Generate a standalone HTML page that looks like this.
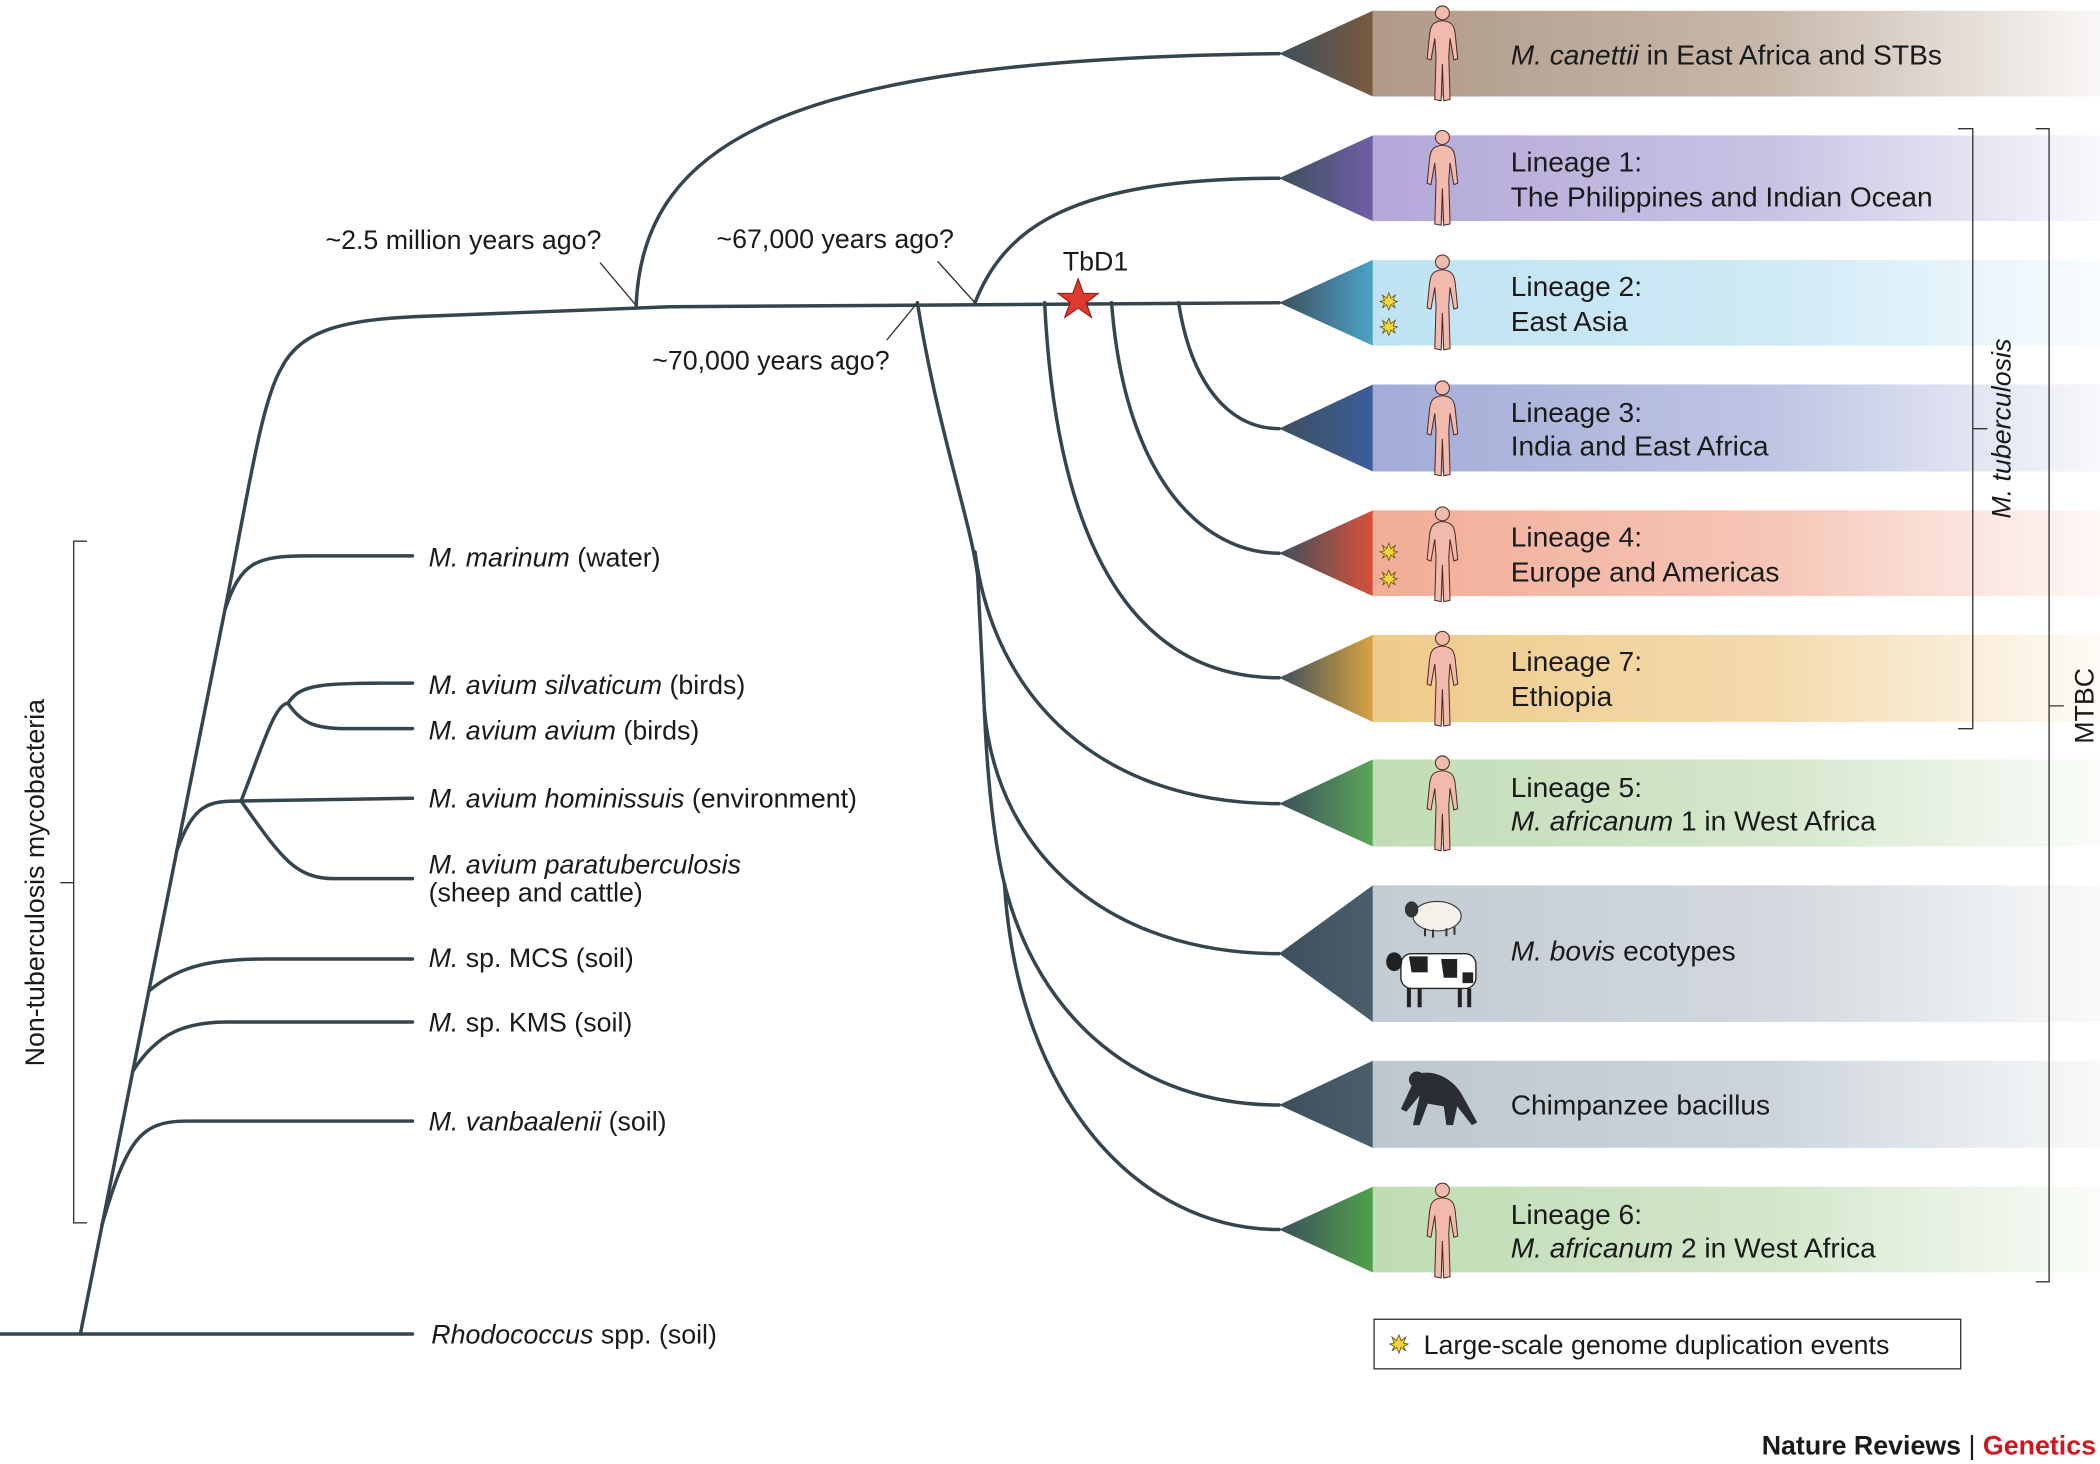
<!DOCTYPE html>
<html><head><meta charset="utf-8"><style>
html,body{margin:0;padding:0;background:#fff;}
svg{display:block;}
text{font-family:"Liberation Sans",sans-serif;fill:#1a1a1a;}
</style></head><body>
<svg width="2100" height="1464" viewBox="0 0 1568 1093" xmlns="http://www.w3.org/2000/svg">
<defs>
<symbol id="hum" viewBox="0 0 30 80">
<circle cx="15" cy="8" r="5.5" fill="#f2b9ad" stroke="#4a2a24" stroke-width="0.8"/>
<path d="M15,14 C8,15 6,17 5,24 L3,44 L6,45 L9,28 L10,42 L9,76 L14,77 L15,48 L16,77 L21,76 L20,42 L21,28 L24,45 L27,44 L25,24 C24,17 22,15 15,14 Z" fill="#f2b9ad" stroke="#4a2a24" stroke-width="0.8"/>
</symbol>
<symbol id="yst" viewBox="-10 -10 20 20">
<polygon points="0,-8 2,-3 6,-6 4,-1 8,0 4,2 6,6 2,3 0,8 -2,3 -6,6 -4,2 -8,0 -4,-1 -6,-6 -2,-3" fill="#f7d53a" stroke="#6b5a10" stroke-width="0.8"/>
</symbol>
<linearGradient id="g0" x1="0" x2="1"><stop offset="0" stop-color="#b09a88"/><stop offset="0.55" stop-color="#b09a88" stop-opacity="0.7"/><stop offset="1" stop-color="#b09a88" stop-opacity="0.08"/></linearGradient>
<linearGradient id="g1" x1="0" x2="1"><stop offset="0" stop-color="#b3a8d8"/><stop offset="0.55" stop-color="#b3a8d8" stop-opacity="0.7"/><stop offset="1" stop-color="#b3a8d8" stop-opacity="0.08"/></linearGradient>
<linearGradient id="g2" x1="0" x2="1"><stop offset="0" stop-color="#bfe3f3"/><stop offset="0.55" stop-color="#bfe3f3" stop-opacity="0.75"/><stop offset="1" stop-color="#bfe3f3" stop-opacity="0.1"/></linearGradient>
<linearGradient id="g3" x1="0" x2="1"><stop offset="0" stop-color="#a3acd7"/><stop offset="0.55" stop-color="#a3acd7" stop-opacity="0.7"/><stop offset="1" stop-color="#a3acd7" stop-opacity="0.08"/></linearGradient>
<linearGradient id="g4" x1="0" x2="1"><stop offset="0" stop-color="#f2ad98"/><stop offset="0.55" stop-color="#f2ad98" stop-opacity="0.7"/><stop offset="1" stop-color="#f2ad98" stop-opacity="0.08"/></linearGradient>
<linearGradient id="g5" x1="0" x2="1"><stop offset="0" stop-color="#efcb8a"/><stop offset="0.55" stop-color="#efcb8a" stop-opacity="0.7"/><stop offset="1" stop-color="#efcb8a" stop-opacity="0.08"/></linearGradient>
<linearGradient id="g6" x1="0" x2="1"><stop offset="0" stop-color="#c2dcb6"/><stop offset="0.55" stop-color="#c2dcb6" stop-opacity="0.7"/><stop offset="1" stop-color="#c2dcb6" stop-opacity="0.08"/></linearGradient>
<linearGradient id="g7" x1="0" x2="1"><stop offset="0" stop-color="#c3cbd3"/><stop offset="0.55" stop-color="#c3cbd3" stop-opacity="0.75"/><stop offset="1" stop-color="#c3cbd3" stop-opacity="0.1"/></linearGradient>
<linearGradient id="g8" x1="0" x2="1"><stop offset="0" stop-color="#bcc7cf"/><stop offset="0.55" stop-color="#bcc7cf" stop-opacity="0.75"/><stop offset="1" stop-color="#bcc7cf" stop-opacity="0.1"/></linearGradient>
<linearGradient id="g9" x1="0" x2="1"><stop offset="0" stop-color="#c0dcb4"/><stop offset="0.55" stop-color="#c0dcb4" stop-opacity="0.7"/><stop offset="1" stop-color="#c0dcb4" stop-opacity="0.08"/></linearGradient>
<linearGradient id="t0" x1="0" x2="1"><stop offset="0" stop-color="#3d4f5c"/><stop offset="1" stop-color="#7a5a3e"/></linearGradient>
<linearGradient id="t1" x1="0" x2="1"><stop offset="0" stop-color="#3d4f5c"/><stop offset="1" stop-color="#6e5ea8"/></linearGradient>
<linearGradient id="t2" x1="0" x2="1"><stop offset="0" stop-color="#3d4f5c"/><stop offset="1" stop-color="#4ba3c8"/></linearGradient>
<linearGradient id="t3" x1="0" x2="1"><stop offset="0" stop-color="#3d4f5c"/><stop offset="1" stop-color="#3b5d9c"/></linearGradient>
<linearGradient id="t4" x1="0" x2="1"><stop offset="0" stop-color="#3d4f5c"/><stop offset="1" stop-color="#d9503a"/></linearGradient>
<linearGradient id="t5" x1="0" x2="1"><stop offset="0" stop-color="#3d4f5c"/><stop offset="1" stop-color="#d9a441"/></linearGradient>
<linearGradient id="t6" x1="0" x2="1"><stop offset="0" stop-color="#3d4f5c"/><stop offset="1" stop-color="#5aa657"/></linearGradient>
<linearGradient id="t7" x1="0" x2="1"><stop offset="0" stop-color="#3d4f5c"/><stop offset="1" stop-color="#4b5e6b"/></linearGradient>
<linearGradient id="t9" x1="0" x2="1"><stop offset="0" stop-color="#3d4f5c"/><stop offset="1" stop-color="#4fa14a"/></linearGradient>
</defs>

<rect x="1025" y="8" width="543" height="64" fill="url(#g0)"/><polygon points="955,40 1025,8 1025,72" fill="url(#t0)"/>
<rect x="1025" y="101" width="543" height="64" fill="url(#g1)"/><polygon points="955,133 1025,101 1025,165" fill="url(#t1)"/>
<rect x="1025" y="194" width="543" height="64" fill="url(#g2)"/><polygon points="955,226 1025,194 1025,258" fill="url(#t2)"/>
<rect x="1025" y="287" width="543" height="65" fill="url(#g3)"/><polygon points="955,320 1025,287 1025,352" fill="url(#t3)"/>
<rect x="1025" y="381" width="543" height="64" fill="url(#g4)"/><polygon points="955,413 1025,381 1025,445" fill="url(#t4)"/>
<rect x="1025" y="474" width="543" height="65" fill="url(#g5)"/><polygon points="955,506 1025,474 1025,539" fill="url(#t5)"/>
<rect x="1025" y="567" width="543" height="65" fill="url(#g6)"/><polygon points="955,600 1025,567 1025,632" fill="url(#t6)"/>
<rect x="1025" y="661" width="543" height="102" fill="url(#g7)"/><polygon points="955,712 1025,661 1025,763" fill="url(#t7)"/>
<rect x="1025" y="792" width="543" height="65" fill="url(#g8)"/><polygon points="955,825 1025,792 1025,857" fill="url(#t7)"/>
<rect x="1025" y="886" width="543" height="64" fill="url(#g9)"/><polygon points="955,918 1025,886 1025,950" fill="url(#t9)"/>

<!-- humans -->
<use href="#hum" x="1062" y="2" width="30" height="76"/>
<use href="#hum" x="1062" y="95" width="30" height="76"/>
<use href="#hum" x="1062" y="188" width="30" height="76"/>
<use href="#hum" x="1062" y="282" width="30" height="76"/>
<use href="#hum" x="1062" y="376" width="30" height="76"/>
<use href="#hum" x="1062" y="469" width="30" height="76"/>
<use href="#hum" x="1062" y="562" width="30" height="76"/>
<use href="#hum" x="1062" y="881" width="30" height="76"/>
<use href="#yst" x="1029" y="217" width="16" height="16"/>
<use href="#yst" x="1029" y="236" width="16" height="16"/>
<use href="#yst" x="1029" y="404" width="16" height="16"/>
<use href="#yst" x="1029" y="424" width="16" height="16"/>
<!-- sheep -->
<ellipse cx="1073" cy="684" rx="18" ry="11" fill="#f4f1ea" stroke="#333" stroke-width="0.8"/>
<ellipse cx="1054" cy="679" rx="5" ry="6" fill="#333"/>
<path d="M1064,693 v6 M1070,694 v6 M1080,693 v6 M1086,692 v6" stroke="#333" stroke-width="1.5"/>
<!-- cow -->
<rect x="1046" y="712" width="56" height="26" rx="8" fill="#fff" stroke="#222" stroke-width="1"/>
<path d="M1052,714 h14 v12 h-12 Z M1076,716 h12 v14 h-10 Z M1092,726 h8 v8 h-8 Z" fill="#222"/>
<ellipse cx="1041" cy="718" rx="6" ry="7" fill="#222"/>
<path d="M1052,738 v14 M1060,738 v14 M1090,738 v14 M1097,738 v14" stroke="#222" stroke-width="3"/>
<!-- chimp -->
<path d="M1058,802 C1070,798 1085,805 1092,818 L1103,838 L1099,840 L1088,826 L1085,840 L1080,840 L1078,826 L1066,824 L1060,840 L1055,840 L1060,818 L1050,830 L1046,828 Z" fill="#2a2e33"/>
<circle cx="1058" cy="806" r="6" fill="#2a2e33"/>

<!-- band labels -->
<g font-size="21">
<text x="1128" y="48"><tspan font-style="italic">M. canettii</tspan> in East Africa and STBs</text>
<text x="1128" y="128">Lineage 1:</text><text x="1128" y="154">The Philippines and Indian Ocean</text>
<text x="1128" y="221">Lineage 2:</text><text x="1128" y="247">East Asia</text>
<text x="1128" y="315">Lineage 3:</text><text x="1128" y="340">India and East Africa</text>
<text x="1128" y="408">Lineage 4:</text><text x="1128" y="434">Europe and Americas</text>
<text x="1128" y="501">Lineage 7:</text><text x="1128" y="527">Ethiopia</text>
<text x="1128" y="595">Lineage 5:</text><text x="1128" y="620"><tspan font-style="italic">M. africanum</tspan> 1 in West Africa</text>
<text x="1128" y="717"><tspan font-style="italic">M. bovis</tspan> ecotypes</text>
<text x="1128" y="832">Chimpanzee bacillus</text>
<text x="1128" y="914">Lineage 6:</text><text x="1128" y="939"><tspan font-style="italic">M. africanum</tspan> 2 in West Africa</text>
</g>

<!-- tree -->
<g fill="none" stroke="#354550" stroke-width="2.6" stroke-linecap="round">
<path d="M0,996 L308,996"/>
<path d="M60,996 L168,455 C185,370 195,300 210,275 C225,245 260,238 320,236 L500,229 L955,226"/>
<path d="M475,228 C480,100 600,44 955,40"/>
<path d="M728,226 C750,170 800,133 955,133"/>
<path d="M880,226 C890,290 920,320 955,320"/>
<path d="M830,226 C840,360 900,413 955,413"/>
<path d="M780,226 C790,430 860,506 955,506"/>
<path d="M685,226 C700,320 725,390 730,430 L735,530 C738,600 745,640 750,660"/>
<path d="M728,412 C742,520 820,600 955,600"/>
<path d="M735,530 C745,640 830,712 955,712"/>
<path d="M750,660 C775,760 850,825 955,825"/>
<path d="M750,660 C760,820 850,918 955,918"/>
<path d="M168,455 C180,420 190,415 230,415 L308,415"/>
<path d="M132,635 C145,600 155,598 180,598 L308,596"/>
<path d="M180,598 C195,560 205,525 215,525 C225,510 240,510 308,510"/>
<path d="M215,525 C225,540 235,544 260,544 L308,544"/>
<path d="M180,598 C210,640 220,656 250,656 L308,656"/>
<path d="M111,740 C135,720 160,716 200,716 L308,716"/>
<path d="M99,800 C118,770 140,763 170,763 L308,763"/>
<path d="M76,915 C95,850 105,837 140,837 L308,837"/>
</g>
<g stroke="#333" stroke-width="1" fill="none">
<path d="M448,196 L475,228 M700,195 L728,226 M662,254 L685,226"/>
<path d="M65,404 H55 V913 H65 M45,659 H55"/>
<path d="M1462,96 H1473 V544 H1462 M1473,320 H1484"/>
<path d="M1520,96 H1530 V957 H1520 M1530,527 H1541"/>
</g>
<polygon points="805,208 809,219 820,219 811,226 815,237 805,230 795,237 799,226 790,219 801,219" fill="#e03a2e" stroke="#8b1a12" stroke-width="0.8"/>

<g font-size="20">
<text x="243" y="186">~2.5 million years ago?</text>
<text x="535" y="185">~67,000 years ago?</text>
<text x="487" y="276">~70,000 years ago?</text>
<text x="818" y="202" text-anchor="middle">TbD1</text>
</g>

<g font-size="20">
<text x="320" y="423"><tspan font-style="italic">M. marinum</tspan> (water)</text>
<text x="320" y="518"><tspan font-style="italic">M. avium silvaticum</tspan> (birds)</text>
<text x="320" y="552"><tspan font-style="italic">M. avium avium</tspan> (birds)</text>
<text x="320" y="603"><tspan font-style="italic">M. avium hominissuis</tspan> (environment)</text>
<text x="320" y="652"><tspan font-style="italic">M. avium paratuberculosis</tspan></text>
<text x="320" y="673">(sheep and cattle)</text>
<text x="320" y="722"><tspan font-style="italic">M.</tspan> sp. MCS (soil)</text>
<text x="320" y="770"><tspan font-style="italic">M.</tspan> sp. KMS (soil)</text>
<text x="320" y="844"><tspan font-style="italic">M. vanbaalenii</tspan> (soil)</text>
<text x="322" y="1003"><tspan font-style="italic">Rhodococcus</tspan> spp. (soil)</text>
<text transform="translate(33,659) rotate(-90)" text-anchor="middle">Non-tuberculosis mycobacteria</text>
<text transform="translate(1501,320) rotate(-90)" text-anchor="middle" font-style="italic">M. tuberculosis</text>
<text transform="translate(1563,527) rotate(-90)" text-anchor="middle">MTBC</text>
</g>

<rect x="1026" y="985" width="438" height="37" fill="#fff" stroke="#333" stroke-width="1"/>
<use href="#yst" x="1036" y="995" width="17" height="17"/>
<text x="1063" y="1011" font-size="20">Large-scale genome duplication events</text>

<text x="1565" y="1086" font-size="20" font-weight="bold" text-anchor="end"><tspan>Nature Reviews</tspan><tspan font-weight="normal"> | </tspan><tspan fill="#d2161e">Genetics</tspan></text>
</svg>
</body></html>
